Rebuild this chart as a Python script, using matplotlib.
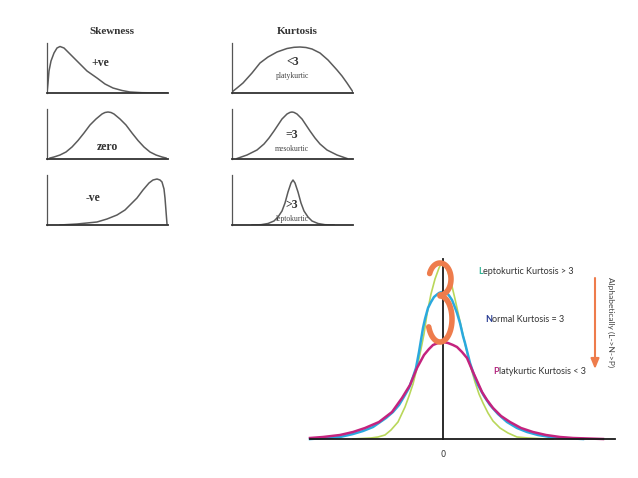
import matplotlib.pyplot as plt
import numpy as np

# figure size in pixels
W, H = 638, 478

# ---- small reference panels (x: 0..121, y: 0..50) ----
skew_pos_x = [0, 1, 2, 4, 7, 10, 13, 17, 22, 28, 33, 40, 50, 58, 66, 75, 83, 95, 121]
skew_pos_y = [0, 10, 22, 32, 40, 45, 46.5, 45, 40, 34, 29, 22, 15, 9, 5, 2.5, 1, 0.3, 0]

skew_zero_x = [3, 7, 13, 19, 25, 31, 37, 43, 49, 55, 58, 61, 64, 67, 73, 79, 85, 91, 97, 103, 109, 115, 119]
skew_zero_y = [1, 2, 4, 7, 12, 18.5, 26, 34, 40, 45, 46.5, 47, 46.5, 45, 40, 34, 26, 18.5, 12, 7, 4, 2, 1]

skew_neg_x = [13, 30, 50, 60, 70, 78, 83, 90, 96, 102, 106, 110, 113, 115, 117, 118, 119, 120]
skew_neg_y = [0, 1, 3, 6, 10, 15, 20, 27, 35, 42, 45, 46, 45, 43, 36, 27, 14, 1]

kurt_platy_x = [0, 5, 11, 20, 28, 36, 45, 55, 62, 68, 74, 80, 88, 96, 105, 110, 115, 121]
kurt_platy_y = [1, 5, 10, 20, 30, 36, 41, 44.5, 45.7, 46, 45.5, 44, 40, 33, 23, 17, 10, 1]

kurt_meso_x = [5, 15, 25, 32, 37, 42, 46, 50, 55, 58, 60, 62, 65, 70, 74, 78, 83, 88, 95, 105, 115]
kurt_meso_y = [0.5, 4, 9, 15, 21, 28, 34, 40, 45, 46.6, 47, 46.6, 45, 40, 34, 28, 21, 15, 9, 4, 0.5]

kurt_lepto_x = [20, 29, 36, 42, 46, 50, 53, 56, 59, 61, 63, 66, 69, 72, 76, 80, 86, 93, 102]
kurt_lepto_y = [0, 0.3, 1.5, 4, 8, 14, 22, 33, 42, 45, 42, 33, 22, 14, 8, 4, 1.5, 0.3, 0]

skew_labels = ["+ve", "zero", "-ve"]
kurt_values = ["<3", "=3", ">3"]
kurt_names = ["platykurtic", "mesokurtic", "leptokurtic"]

# ---- big comparison chart ----
lepto_x = [-90, -85, -72, -65, -58, -52, -45, -38, -34, -30, -26, -23, -19, -16, -12, -8, -4, -2, 0,
           2, 4, 8, 12, 16, 20, 24, 28, 32, 36, 40, 45, 50, 57, 65, 74, 85, 100, 110]
lepto_y = [0, 0.3, 1, 2, 4, 9, 17, 32, 43, 55, 71, 85, 105, 125, 145, 160, 171, 175, 177,
           175, 170, 157, 140, 122, 104, 87, 71, 57, 45, 36, 26, 18, 11, 6, 2, 1, 0.2, 0]

normal_x = [-133, -115, -103, -90, -80, -70, -57, -50, -44, -38, -34, -30, -27, -24, -22, -20, -18, -15,
            -12, -9, -6, -4, -2, 0, 2, 4, 6, 9, 11, 14, 17, 20, 22, 24, 27, 31, 35, 41, 47, 55, 64, 74,
            84, 95, 107, 120, 140]
normal_y = [0, 1, 2, 5, 8, 12, 21, 27, 34, 44, 51, 62, 71, 87, 99, 111, 120, 131,
            137, 142, 144.5, 146, 146.8, 147, 146.8, 146, 143.5, 139, 134, 126, 116, 103, 96, 88, 76,
            64, 54, 43, 34, 25, 17, 11, 7, 4, 2, 1, 0]

platy_x = [-133, -120, -103, -90, -78, -64, -51, -41, -33, -26, -19, -14, -10, -5, 0,
           5, 10, 14, 19, 24, 30, 35, 39, 44, 50, 58, 67, 78, 90, 103, 117, 130, 145, 160]
platy_y = [1, 2, 4, 7, 11, 17, 27, 41, 54, 71, 84, 90, 94, 96, 97,
           96, 94, 92, 87, 81, 67, 56, 47, 39, 31, 23, 17, 11, 7, 4, 2, 1, 0.5, 0]

bell_labels = ["Leptokurtic Kurtosis > 3", "Normal Kurtosis = 3", "Platykurtic Kurtosis < 3"]
bell_colors = ["#b9d75a", "#2aa9de", "#c4237e"]
letter_colors = ["#2fb394", "#2b3f95", "#b3247e"]
ORANGE = "#ee7c4c"


def box(left, top, right, bottom):
    return [left / W, 1 - bottom / H, (right - left) / W, (bottom - top) / H]


def small_panel(rect, xs, ys):
    ax = fig.add_axes(rect)
    ax.plot(xs, ys, color="#5b5b5b", lw=1.1)
    ax.set_xlim(0, 121)
    ax.set_ylim(0, 50)
    ax.spines["top"].set_visible(False)
    ax.spines["right"].set_visible(False)
    ax.spines["left"].set_color("#555555")
    ax.spines["left"].set_linewidth(0.9)
    ax.spines["bottom"].set_color("#333333")
    ax.spines["bottom"].set_linewidth(1.3)
    ax.set_xticks([])
    ax.set_yticks([])
    ax.patch.set_alpha(0)
    return ax


def arc_pts(cx, cy, rx, ry, a0, a1):
    # visual angles in degrees, pixel coords with y pointing down
    t = np.radians(np.linspace(a0, a1, 60))
    return cx + rx * np.cos(t), cy - ry * np.sin(t)


fig = plt.figure(figsize=(W / 100, H / 100), dpi=100)

rows = [(43, 93), (109, 159), (175, 225)]
left_curves = [(skew_pos_x, skew_pos_y), (skew_zero_x, skew_zero_y), (skew_neg_x, skew_neg_y)]
right_curves = [(kurt_platy_x, kurt_platy_y), (kurt_meso_x, kurt_meso_y), (kurt_lepto_x, kurt_lepto_y)]
for (top, bot), lc, rc in zip(rows, left_curves, right_curves):
    small_panel(box(47, top, 168, bot), *lc)
    small_panel(box(232, top, 353, bot), *rc)

# big chart
ax = fig.add_axes(box(310, 259, 615, 439))
ax.plot(lepto_x, lepto_y, color=bell_colors[0], lw=1.2, clip_on=False)
ax.plot(normal_x, normal_y, color=bell_colors[1], lw=1.8, clip_on=False)
ax.plot(platy_x, platy_y, color=bell_colors[2], lw=1.8, clip_on=False)
ax.set_xlim(-133, 172)
ax.set_ylim(0, 180)
ax.spines["top"].set_visible(False)
ax.spines["right"].set_visible(False)
ax.spines["left"].set_position(("data", 0))
for s in ["left", "bottom"]:
    ax.spines[s].set_color("#1a1a1a")
    ax.spines[s].set_linewidth(1.3)
ax.set_xticks([0])
ax.set_yticks([])
ax.tick_params(axis="x", length=0, pad=8, labelsize=6, labelcolor="#333333")
ax.patch.set_alpha(0)

# overlay in pixel coordinates for the annotations
ov = fig.add_axes([0, 0, 1, 1], zorder=10)
ov.set_xlim(0, W)
ov.set_ylim(H, 0)
ov.axis("off")

serif = "Liberation Serif"
ov.text(112, 31, "Skewness", ha="center", va="center", family=serif, weight="bold", fontsize=8, color="#333333")
ov.text(297, 31, "Kurtosis", ha="center", va="center", family=serif, weight="bold", fontsize=8, color="#333333")

for lab, pos in zip(skew_labels, [(100, 63), (107, 147), (93, 198)]):
    ov.text(pos[0], pos[1], lab, ha="center", va="center", family=serif, weight="bold", fontsize=8.5, color="#333333")

for val, name, pos in zip(kurt_values, kurt_names, [(293, 62), (292, 135), (292, 205)]):
    ov.text(pos[0], pos[1], val, ha="center", va="center", family=serif, weight="bold", fontsize=8.5, color="#333333")
    ov.text(pos[0], pos[1] + 14, name, ha="center", va="center", family=serif, fontsize=5.5, color="#444444")

# labels with coloured initial letter
for lab, col, pos in zip(bell_labels, letter_colors, [(478, 271), (485, 320), (493, 372)]):
    first = ov.text(pos[0], pos[1], lab[0], ha="left", va="center", family="Lato", weight="bold",
                    fontsize=6.5, color=col)
    ov.annotate(lab[1:], xy=(1, 0), xycoords=first, ha="left", va="bottom", family="Lato",
                fontsize=6.5, color="#333333")

# arrow and rotated caption
ov.annotate("", xy=(595, 369), xytext=(595, 278),
            arrowprops=dict(arrowstyle="-|>,head_length=0.6,head_width=0.25", color=ORANGE, lw=1.5,
                            shrinkA=0, shrinkB=0))
ov.text(611, 322, "Alphabetically (L->N->P)", rotation=-90, ha="center", va="center", family="Lato",
        fontsize=6, color="#444444")

# big orange "3" over the peaks
ux, uy = arc_pts(440, 279, 11, 16, 160, -90)
lx, ly = arc_pts(440, 319, 12, 23, 90, -160)
ov.plot(ux, uy, color=ORANGE, lw=4, solid_capstyle="round")
ov.plot(lx, ly, color=ORANGE, lw=4, solid_capstyle="round")

fig.savefig("out.png", dpi=100)
